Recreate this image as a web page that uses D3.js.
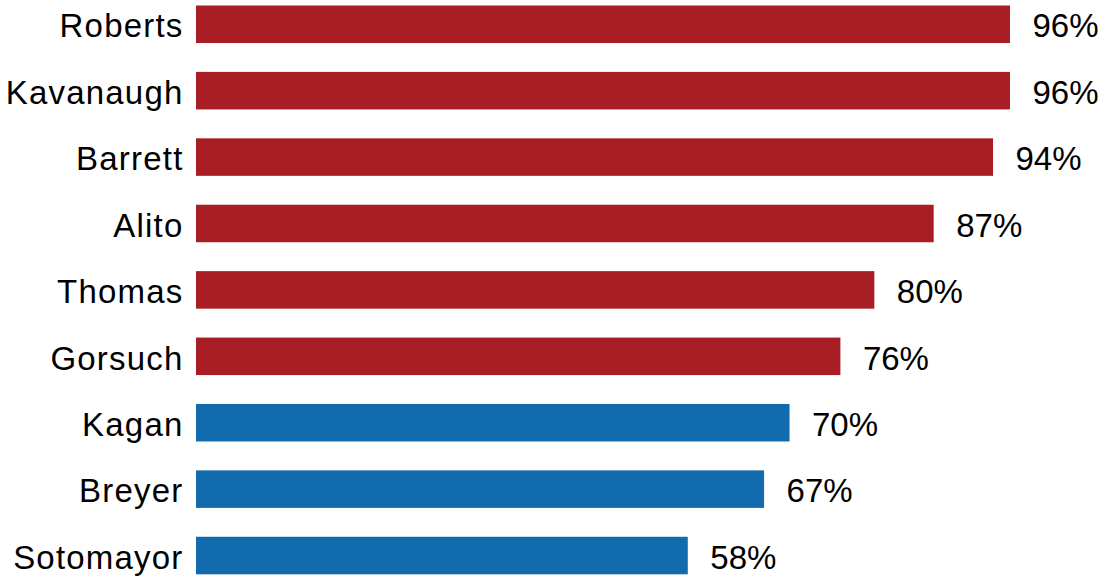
<!DOCTYPE html>
<html>
<head>
<meta charset="utf-8">
<script src="https://cdn.jsdelivr.net/npm/d3@7"></script>
<style>
  html, body { margin: 0; padding: 0; background: #fff; }
  svg { display: block; }
</style>
</head>
<body>
<svg id="chart" width="1110" height="582"></svg>
<script>
const justices = ["Roberts", "Kavanaugh", "Barrett", "Alito", "Thomas", "Gorsuch", "Kagan", "Breyer", "Sotomayor"];
const values = [96, 96, 94, 87, 80, 76, 70, 67, 58];
const party = ["R", "R", "R", "R", "R", "R", "D", "D", "D"];

const colors = { R: "#a81e24", D: "#116bac" };

const svg = d3.select("#chart");

const x = d3.scaleLinear().domain([0, 100]).range([196, 1043.9]);
const y = d3.scaleBand()
  .domain(justices)
  .range([5.5, 574.3])
  .paddingInner(0.435)
  .paddingOuter(0);

const rows = justices.map((name, i) => ({ name, value: values[i], party: party[i] }));

svg.append("g")
  .selectAll("rect")
  .data(rows)
  .join("rect")
  .attr("x", x(0))
  .attr("y", d => y(d.name))
  .attr("width", d => x(d.value) - x(0))
  .attr("height", y.bandwidth())
  .attr("fill", d => colors[d.party]);

// justice names, right aligned next to the bars
svg.append("g")
  .selectAll("text")
  .data(rows)
  .join("text")
  .attr("x", x(0) - 12.5)
  .attr("y", d => y(d.name) + y.bandwidth() / 2)
  .attr("dy", "0.4em")
  .attr("text-anchor", "end")
  .style("font-family", "'Liberation Sans', Arial, sans-serif")
  .style("font-size", "33px")
  .style("letter-spacing", "1.2px")
  .style("fill", "#000")
  .text(d => d.name);

// percentage labels at bar ends
svg.append("g")
  .selectAll("text")
  .data(rows)
  .join("text")
  .attr("x", d => x(d.value) + 22.5)
  .attr("y", d => y(d.name) + y.bandwidth() / 2)
  .attr("dy", "0.4em")
  .attr("text-anchor", "start")
  .style("font-family", "'Liberation Sans', Arial, sans-serif")
  .style("font-size", "33px")
  .style("fill", "#000")
  .text(d => d.value + "%");
</script>
</body>
</html>
